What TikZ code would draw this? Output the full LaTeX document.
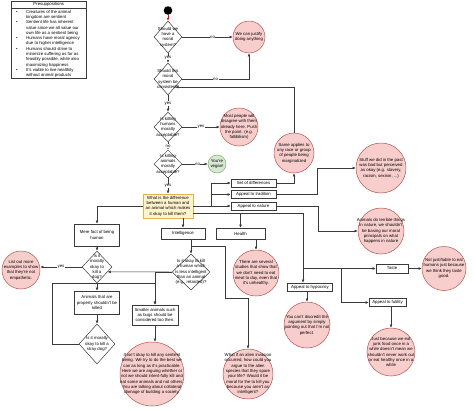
\documentclass[tikz,border=0pt]{standalone}
\usepackage{fontspec}
\setmainfont{Liberation Sans}
\usepackage{tikz}
\usetikzlibrary{calc,arrows.meta,shapes.geometric}
\definecolor{claimPink}{HTML}{F8CECC}
\definecolor{claimPinkLine}{HTML}{B85450}
\definecolor{veganGreen}{HTML}{D5E8D4}
\definecolor{veganGreenLine}{HTML}{82B366}
\definecolor{askYellow}{HTML}{FFF2CC}
\definecolor{askYellowLine}{HTML}{D6B656}
\definecolor{edgeGrey}{HTML}{3A3A3A}
\newcommand{\dgfont}{\fontsize{4.3}{5.3}\selectfont}
\tikzset{
  claimball/.style={circle, draw=claimPinkLine, fill=claimPink, line width=0.5pt, minimum size=#1, inner sep=0pt},
  veganball/.style={circle, draw=veganGreenLine, fill=veganGreen, line width=0.5pt, minimum size=#1, inner sep=0pt},
  decision/.style 2 args={diamond, draw=edgeGrey, fill=white, line width=0.5pt, minimum width=#1, minimum height=#2, inner sep=0pt},
  answerbox/.style 2 args={rectangle, draw=edgeGrey, fill=white, line width=0.5pt, minimum width=#1, minimum height=#2, inner sep=0pt, align=center, font=\dgfont},
  askbox/.style 2 args={rectangle, draw=askYellowLine, fill=askYellow, line width=0.5pt, minimum width=#1, minimum height=#2, inner sep=0pt, align=center, font=\dgfont},
  celltext/.style={align=center, font=\dgfont, inner sep=0pt},
  startdot/.style={circle, fill=black, minimum size=8.6pt, inner sep=0pt},
  flowarrow/.style={-{Latex[length=3.2pt,width=2.8pt]}, line width=0.5pt, draw=edgeGrey},
  startarrow/.style={-{Latex[length=3pt,width=2.8pt]}, line width=0.5pt, draw=red},
  yesno/.style={font=\dgfont, fill=white, inner sep=0.5pt},
}

\begin{document}
\begin{tikzpicture}[x=1pt,y=-1pt]
  \fill[white] (0,0) rectangle (474,410);
  \useasboundingbox (0,0) rectangle (474,410);

  % presuppositions
  \node[answerbox={75pt}{7pt}, anchor=north west] (presup-head) at (11,0.5) {Presuppositions};
  \node[answerbox={75pt}{70.5pt}, anchor=north west] (presup-body) at (11,7.5) {};
  \node[font=\dgfont, inner sep=0pt, anchor=north west] (presup-list) at (16,9.2) {%
    \begin{tabular}{@{}l@{\hspace{8.5pt}}l@{}}
    \textbullet & Creatures of the animal\\
     & kingdom are sentient\\
    \textbullet & Sentient life has inherent\\
     & value since we all value our\\
     & own life as a sentient being\\
    \textbullet & Humans have moral agency\\
     & due to higher intelligence\\
    \textbullet & Humans should strive to\\
     & minimize suffering as far as\\
     & feasibly possible, while also\\
     & maximizing happiness\\
    \textbullet & It's viable to live healthily\\
     & without animal products
    \end{tabular}};

  % main questions
  \node[startdot] (start) at (168,10.5) {};
  \node[decision={28pt}{32pt}] (d1) at (168,37) {};
  \node[celltext] (d1-t) at (d1) {Should we\\have a\\moral\\system?};
  \node[decision={28pt}{32pt}] (d2) at (168,79) {};
  \node[celltext] (d2-t) at (d2) {Should this\\moral\\system be\\consistent?};
  \node[decision={28pt}{30pt}] (d3) at (168,127) {};
  \node[celltext] (d3-t) at (d3) {Is killing\\humans\\morally\\acceptable?};
  \node[decision={28pt}{28pt}] (d4) at (168,164) {};
  \node[celltext] (d4-t) at (d4) {Is killing\\animals\\morally\\acceptable?};
  \node[askbox={50pt}{24pt}] (yellow) at (168,206) {What is the difference\\between a human and\\an animal which makes\\it okay to kill them?};

  \node[claimball=32pt] (justify) at (249,37) {};
  \node[celltext] (justify-t) at (justify) {We can justify\\doing anything};
  \node[claimball=38pt] (most) at (239,127) {};
  \node[celltext] (most-t) at (most) {Most people will\\disagree with them\\already here. Push\\the point. (e.g.\\fallibilism)};
  \node[veganball=18pt] (vegan) at (217,164) {};
  \node[celltext] (vegan-t) at (vegan) {You're\\vegan!};
  \node[claimball=40pt] (same) at (294,153) {};
  \node[celltext] (same-t) at (same) {Same applies to\\any race or group\\of people being\\marginalized};

  % fallacies
  \node[answerbox={45pt}{8pt}] (setdiff) at (253.5,183) {Set of differences};
  \node[answerbox={45pt}{8pt}] (tradition) at (253.5,194.5) {Appeal to tradition};
  \node[answerbox={45pt}{8pt}] (nature) at (253.5,206) {Appeal to nature};
  \node[answerbox={45pt}{8pt}] (hypo) at (310,287) {Appeal to hypocrisy};
  \node[answerbox={32pt}{9pt}] (taste) at (392,268.5) {Taste};
  \node[answerbox={37pt}{8pt}] (futility) at (387.5,302.5) {Appeal to futility};

  \node[claimball=50pt] (stuff) at (381,168) {};
  \node[celltext] (stuff-t) at (stuff) {Stuff we did in the past\\was bad but perceived\\as okay (e.g. slavery,\\racism, sexism, ...)};
  \node[claimball=46pt] (terrible) at (381,231) {};
  \node[celltext] (terrible-t) at (terrible) {Animals do terrible things\\in nature, we shouldn't\\be basing our moral\\principals on what\\happens in nature};
  \node[claimball=44pt] (notjust) at (444,268.5) {};
  \node[celltext] (notjust-t) at (notjust) {Not justifiable to eat\\humans just because\\we think they taste\\good.};
  \node[claimball=46pt] (youcant) at (307,325) {};
  \node[celltext] (youcant-t) at (youcant) {You can't discredit the\\argument by simply\\pointing out that I'm not\\perfect.};
  \node[claimball=48pt] (justbecause) at (391,352) {};
  \node[celltext] (justbecause-t) at (justbecause) {Just because we eat\\junk food once in a\\while doesn't mean we\\shouldn't never work out\\or eat healthy once in a\\while};

  % answers
  \node[answerbox={45pt}{22pt}] (mere) at (97,235) {Mere fact of being\\human};
  \node[answerbox={44pt}{11pt}] (intel) at (183,233.5) {Intelligence};
  \node[answerbox={49pt}{11pt}] (health) at (240.5,233.5) {Health};
  \node[claimball=46pt] (hcirc) at (256,273) {};
  \node[celltext] (hcirc-t) at (hcirc) {There are several\\studies that show that\\we don't need to eat\\meat to day, even that\\it's unhealthy.};

  \node[decision={30pt}{32pt}] (dog) at (97,267) {};
  \node[celltext] (dog-t) at (dog) {Is it\\morally\\okay to\\kill a\\dog?};
  \node[claimball=38pt] (listout) at (21,270) {};
  \node[celltext] (listout-t) at (listout) {List out more\\examples to show\\that they're not\\empathetic.};
  \node[answerbox={45pt}{23pt}] (property) at (97,302.5) {Animals that are\\property shouldn't be\\killed};
  \node[decision={36pt}{40pt}] (stray) at (97,344) {};
  \node[celltext] (stray-t) at (stray) {Is it morally\\okay to kill a\\stray dog?};
  \node[decision={38pt}{36pt}] (inteldia) at (191,272) {};
  \node[celltext] (inteldia-t) at (inteldia) {Is it okay to kill\\a human which\\is less intelligent\\than an animal\\(e.g., retarded)?};
  \node[answerbox={46pt}{20pt}] (bugs) at (155,315) {Smaller animals such\\as bugs should be\\considered too then.};
  \node[claimball=64pt] (bigc) at (152,374) {};
  \node[celltext] (bigc-t) at (bigc) {It isn't okay to kill any sentient\\being. We try to do the best we\\can as long as it's practicable.\\Here we are arguing whether or\\not we should intent-fully kill and\\eat some animals and not others.\\You are talking about collateral\\damage of building a society.};
  \node[claimball=50pt] (alien) at (248,374) {};
  \node[celltext] (alien-t) at (alien) {What if an alien invasion\\occurred, how could you\\argue to the alien\\species that they spare\\your life? Would it be\\moral for the to kill you\\because you aren't as\\intelligent?};

  % connectors
  \draw[startarrow] (start.south) -- (d1.north);
  \draw[flowarrow] (d1.east) -- node[yesno, pos=0.6] (no-1) {no} (justify.west);
  \draw[flowarrow] (d1.south) -- node[yesno] (yes-1) {yes} (d2.north);
  \draw[flowarrow] (d2.east) -| node[yesno, pos=0.25] (no-2) {no} (justify.south);
  \draw[flowarrow] (same.north) |- (d2.south east);
  \draw[flowarrow] (d2.south) -- node[yesno] (yes-2) {yes} (d3.north);
  \draw[flowarrow] (d3.east) -- node[yesno] (yes-3) {yes} (most.west);
  \draw[flowarrow] (d3.south) -- node[yesno] (no-3) {no} (d4.north);
  \draw[flowarrow] (d4.east) -- node[yesno, pos=0.6] (no-4) {no} (vegan.west);
  \draw[flowarrow] (d4.south) -- node[yesno] (yes-4) {yes} (yellow.north);

  \coordinate (appeal-fork) at (211,206);
  \draw[flowarrow] (yellow.east) -- (nature.west);
  \draw[flowarrow] (yellow.east) -- (appeal-fork) |- (tradition.west);
  \draw[flowarrow] (yellow.east) -- (appeal-fork) |- (setdiff.west);
  \draw[flowarrow] (setdiff.east) -| (same.south);
  \draw[flowarrow] (tradition.east) -- ++(41,0) |- (stuff.west);
  \draw[flowarrow] (nature.east) -- ++(42,0) |- (terrible.west);

  \draw[flowarrow] ([yshift=-7pt]yellow.east) -| (health.north);
  \draw[flowarrow] ([yshift=-7pt]yellow.east) -| ([xshift=-7pt]hypo.north);
  \coordinate (taste-fork) at (303,268.5);
  \coordinate (futility-fork) at (341,268.5);
  \draw[flowarrow] (taste-fork) -- (taste.west);
  \draw[flowarrow] (futility-fork) |- (futility.west);
  \draw[flowarrow] (taste.east) -- (notjust.west);
  \draw[flowarrow] (justbecause.north |- futility.south) -- (justbecause.north);
  \draw[flowarrow] (youcant.north |- hypo.south) -- (youcant.north);
  \draw[flowarrow] (hcirc.north |- health.south) -- (hcirc.north);

  \draw[flowarrow] (intel.north |- yellow.south) -- (intel.north);
  \draw[flowarrow] (inteldia.north |- intel.south) -- (inteldia.north);
  \draw[flowarrow] (inteldia.north |- intel.south) -- ++(0,7) -| ++(34,52) -| (alien.north);
  \draw[flowarrow] (inteldia.west) -- ($(dog.east)!0.3!(dog.south)$);
  \draw[flowarrow] (inteldia.west) -| (bugs.north);

  \draw[flowarrow] (yellow.west) -| (mere.north);
  \draw[flowarrow] (mere.south) -- (dog.north);
  \draw[flowarrow] (dog.west) -- node[yesno] (yes-dog) {yes} (listout.east |- dog.west);
  \draw[flowarrow] (dog.south) -- (property.north);
  \draw[flowarrow] (property.south) -- (stray.north);
  \draw[flowarrow] (stray.west) -| ++(-27,-61) -| (bugs.north);
  \draw[flowarrow] (bugs.south) -- (bugs.south |- bigc.north);
\end{tikzpicture}
\end{document}
